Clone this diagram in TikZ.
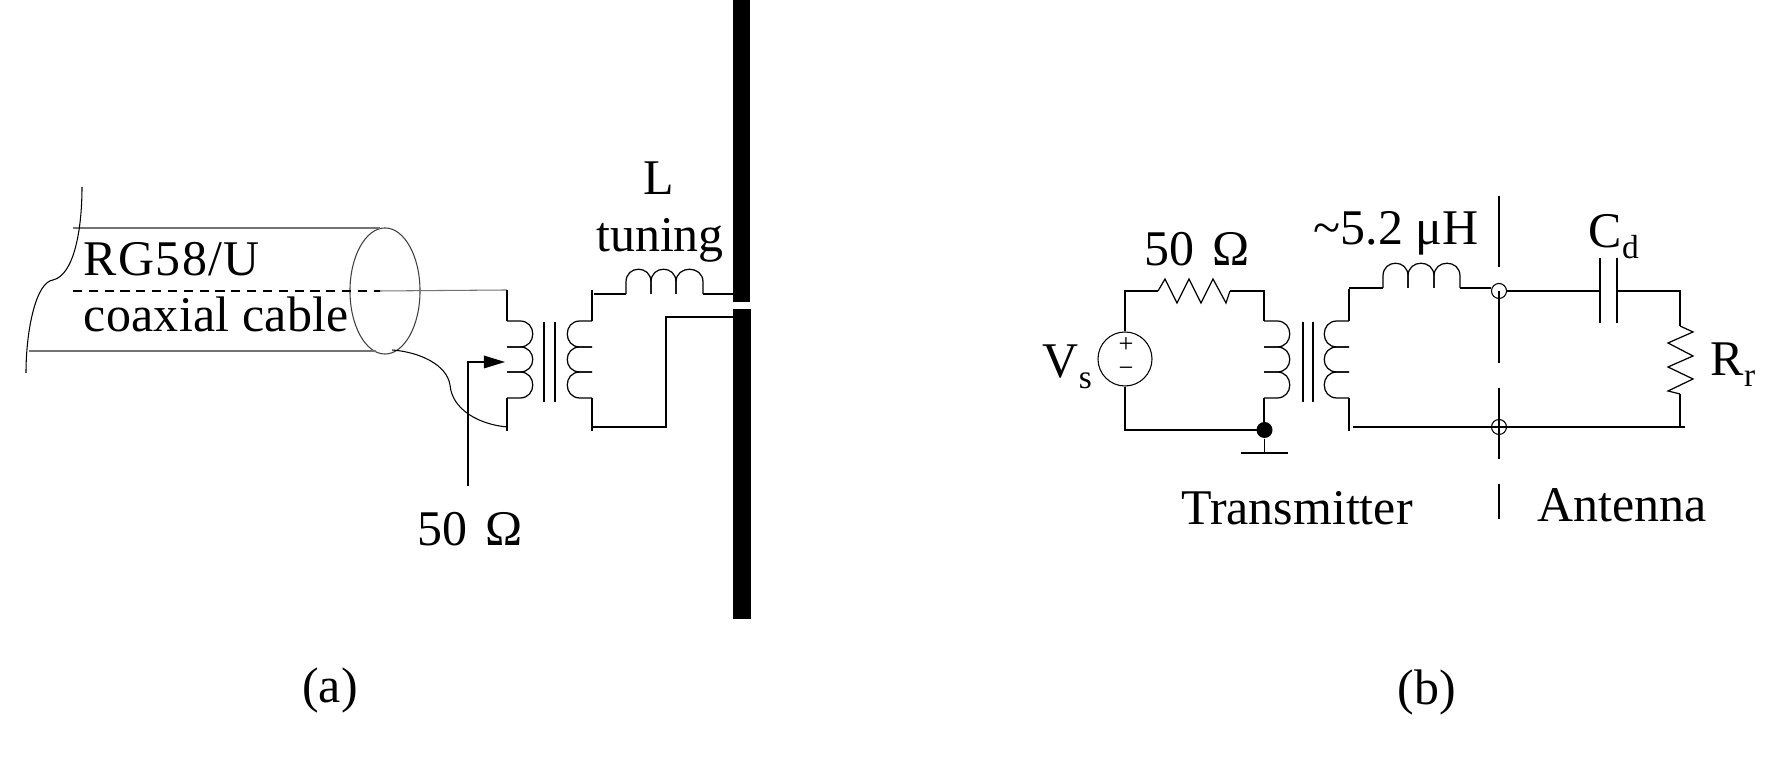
\documentclass[tikz,border=0pt]{standalone}
\usepackage{fontspec}
\setmainfont{Liberation Serif}
\usetikzlibrary{arrows.meta,shapes.geometric}
\newcommand{\subtxt}[1]{\raisebox{-3pt}{\fontsize{9.5}{10}\selectfont #1}}
\tikzset{
	wire/.style={line width=0.35pt,black},
	cableline/.style={line width=0.3pt,black!55},
	txt/.style={inner sep=0pt,anchor=base,font=\fontsize{14.2}{17}\selectfont},
	txtleft/.style={txt,anchor=base west},
	sign/.style={inner sep=0pt,font=\fontsize{7.5}{8}\selectfont},
	port/.style={circle,draw,line width=0.3pt,inner sep=0pt,minimum size=0.15cm}
}
\begin{document}
\begin{tikzpicture}[x=0.01cm, y=-0.01cm]
	\useasboundingbox (0,0) rectangle (1769,765);
	% (a)
	\node[ellipse,draw=black!75,line width=0.3pt,inner sep=0pt,minimum width=0.7cm,minimum height=1.26cm](Cable) at (385,291) {};
	\coordinate(CableTop) at (73,228);
	\coordinate(CableTopEnd) at (380,228);
	\coordinate(CableBot) at (29,351);
	\coordinate(CableBotEnd) at (376,351);
	\coordinate(CableMid) at (73,291);
	\coordinate(CableIn) at (380,291);
	\coordinate(BreakA) at (82,187);
	\coordinate(BreakB) at (53,280);
	\coordinate(BreakC) at (26,373);
	\coordinate(TailA) at (392,350);
	\coordinate(TailB) at (450,385);
	\coordinate(TailC) at (508,427);
	\coordinate(PriTop) at (507,290);
	\coordinate(PriA) at (507,321);
	\coordinate(PriB) at (507,398);
	\coordinate(PriBot) at (507,431);
	\coordinate(SecTop) at (592,290);
	\coordinate(SecA) at (592,321);
	\coordinate(SecB) at (592,398);
	\coordinate(SecBot) at (592,431);
	\coordinate(TuneA) at (594,294);
	\coordinate(TuneB) at (626,294);
	\coordinate(TuneC) at (703,294);
	\coordinate(TuneD) at (733,294);
	\coordinate(RetA) at (592,427);
	\coordinate(RetB) at (666,427);
	\coordinate(RetC) at (666,317);
	\coordinate(RetD) at (733,317);
	\coordinate(LeadA) at (468,486);
	\coordinate(LeadB) at (468,362);
	\coordinate(LeadC) at (505,362);
	\draw[cableline] (CableTop) -- (CableTopEnd);
	\draw[cableline] (CableBot) -- (CableBotEnd);
	\draw[wire,dash pattern=on 2.6pt off 1.9pt] (CableMid) -- (CableIn);
	\draw[cableline] (CableIn) -- (PriTop);
	\draw[wire,line width=0.3pt] (BreakA) .. controls (82,230) and (74,275) .. (BreakB) .. controls (36,282) and (26,330) .. (BreakC);
	\draw[wire,line width=0.3pt] (TailA) .. controls (420,352) and (447,365) .. (TailB) .. controls (452,410) and (480,425) .. (TailC);
	\draw[wire] (PriTop) -- (PriA);
	\draw[wire] (PriB) -- (PriBot);
	\draw[wire] (SecTop) -- (SecA);
	\draw[wire] (SecB) -- (SecBot);
	\draw[wire] (TuneA) -- (TuneB);
	\draw[wire] (TuneC) -- (TuneD);
	\draw[wire] (RetA) -- (RetB) -- (RetC) -- (RetD);
	\draw[wire,-{Triangle[length=6pt,width=3.6pt]}] (LeadA) -- (LeadB) -- (LeadC);
	\fill (733,0) rectangle (750,302);
	\fill (733,309) rectangle (751,619);
	\node[txt](LabL) at (659,195) {L};
	\node[txt](LabTuning) at (660,252) {tuning};
	\node[txtleft](LabCable) at (83,276) {\addfontfeature{LetterSpace=2.7}RG58/U};
	\node[txtleft](LabCoax) at (83,332) {\addfontfeature{LetterSpace=0.6}coaxial cable};
	\node[txt](LabOhmA) at (470,546) {50\hspace{0.36em}Ω};
	\node[txt](LabA) at (330,703) {(a)};
	% (b)
	\node[circle,draw,line width=0.3pt,inner sep=0pt,minimum size=0.54cm](Vs) at (1125,359) {};
	\node[sign](VsPlus) at (1126,345) {+};
	\node[sign](VsMinus) at (1126,372) {−};
	\node[circle,fill=black,inner sep=0pt,minimum size=0.16cm](Dot) at (1264.5,430) {};
	\node[port](PortTop) at (1499,291) {};
	\node[port](PortBot) at (1499,427) {};
	\coordinate(VsTop) at (1125,291);
	\coordinate(VsBot) at (1125,430);
	\coordinate(ResA) at (1158,291);
	\coordinate(ResB) at (1230,291);
	\coordinate(XPriTop) at (1264,291);
	\coordinate(XPriA) at (1264,321);
	\coordinate(XPriB) at (1264,398);
	\coordinate(XPriC) at (1264,430);
	\coordinate(XSecTop) at (1349,289);
	\coordinate(XSecA) at (1349,321);
	\coordinate(XSecB) at (1349,398);
	\coordinate(XSecBot) at (1349,431);
	\coordinate(GndTop) at (1264.5,453);
	\coordinate(GndL) at (1241,453);
	\coordinate(GndR) at (1288,453);
	\coordinate(IndA) at (1349,288);
	\coordinate(IndB) at (1383,288);
	\coordinate(IndC) at (1460,288);
	\coordinate(IndD) at (1491,288);
	\coordinate(CapA) at (1600,291);
	\coordinate(CapB) at (1617,291);
	\coordinate(CapAt) at (1600,258);
	\coordinate(CapAb) at (1600,323);
	\coordinate(CapBt) at (1617,258);
	\coordinate(CapBb) at (1617,323);
	\coordinate(RadTop) at (1680,291);
	\coordinate(RadA) at (1680,326);
	\coordinate(RadB) at (1680,394);
	\coordinate(RadBot) at (1680,427);
	\coordinate(BotA) at (1353,427);
	\coordinate(BotB) at (1685,427);
	\coordinate(CutA) at (1499,196);
	\coordinate(CutB) at (1499,267);
	\coordinate(CutC) at (1499,363);
	\coordinate(CutD) at (1499,388);
	\coordinate(CutE) at (1499,459);
	\coordinate(CutF) at (1499,484);
	\coordinate(CutG) at (1499,519);
	\draw[wire] (Vs.north) -- (VsTop) -- (ResA);
	\draw[wire] (ResA) -- (1165,279) -- (1177,303) -- (1189,279) -- (1201,303) -- (1213,279) -- (1226,303) -- (ResB);
	\draw[wire] (ResB) -- (XPriTop) -- (XPriA);
	\draw[wire] (XPriB) -- (XPriC);
	\draw[wire] (Vs.south) -- (VsBot) -- (XPriC);
	\draw[wire] (Dot) -- (GndTop);
	\draw[wire] (GndL) -- (GndR);
	\draw[wire] (XSecTop) -- (XSecA);
	\draw[wire] (XSecB) -- (XSecBot);
	\draw[wire] (IndA) -- (IndB);
	\draw[wire] (IndC) -- (IndD);
	\draw[wire] (PortTop.east) -- (CapA);
	\draw[wire] (CapAt) -- (CapAb);
	\draw[wire] (CapBt) -- (CapBb);
	\draw[wire] (CapB) -- (RadTop) -- (RadA);
	\draw[wire] (RadA) -- (1693,332) -- (1668,343) -- (1693,356) -- (1668,367) -- (1693,379) -- (1668,391) -- (RadB);
	\draw[wire] (RadB) -- (RadBot);
	\draw[wire] (BotA) -- (BotB);
	\draw[wire] (CutA) -- (CutB);
	\draw[wire] (PortTop.center) -- (CutC);
	\draw[wire] (CutD) -- (CutE);
	\draw[wire] (CutF) -- (CutG);
	% transformer windings and series coils
	\foreach \xr/\xm/\xc in {507/520/537, 592/580/563, 1264/1277/1294, 1349/1337/1320}
		\foreach \ya/\yb in {321/347, 347/372, 372/398}
			\draw[wire] (\xr,\ya) -- (\xm,\ya) .. controls (\xc,\ya) and (\xc,\yb) .. (\xm,\yb) -- (\xr,\yb);
	\foreach \xa/\xb/\yb in {626/651/294, 651/676/294, 676/703/294, 1383/1408/288, 1408/1434/288, 1434/1460/288}
		\draw[wire] (\xa,\yb) -- (\xa,\yb-12) .. controls (\xa,\yb-29) and (\xb,\yb-29) .. (\xb,\yb-12) -- (\xb,\yb);
	\foreach \xc in {544, 555, 1303, 1313}
		\draw[wire] (\xc,322) -- (\xc,402);
	\node[txtleft](LabVs) at (1042,378) {V\subtxt{s}};
	\node[txt](LabOhmB) at (1197,266) {50\hspace{0.36em}Ω};
	\node[txtleft](LabInd) at (1313,245) {\textasciitilde 5.2 μH};
	\node[txtleft](LabCd) at (1588,248) {C\subtxt{d}};
	\node[txtleft](LabRr) at (1710,376) {R\subtxt{r}};
	\node[txt](LabTx) at (1297,525) {Transmitter};
	\node[txt](LabAnt) at (1622,522) {Antenna};
	\node[txt](LabB) at (1427,705) {(b)};
\end{tikzpicture}
\end{document}
